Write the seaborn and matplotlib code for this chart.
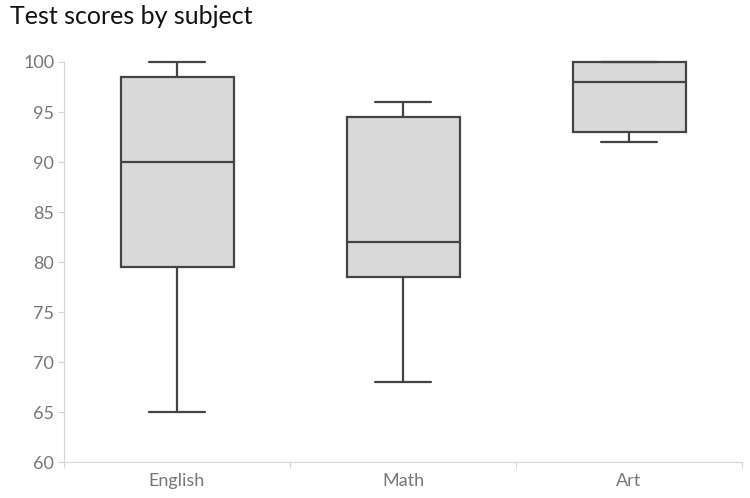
import matplotlib
matplotlib.use("Agg")
import matplotlib.pyplot as plt
import seaborn as sns
import pandas as pd

# scores per subject (chosen so the quartiles match the reference boxes)
subjects = ["English", "Math", "Art"]
english_scores = [65, 79.5, 90, 98.5, 100]
math_scores = [68, 78.5, 82, 94.5, 96]
art_scores = [92, 93, 98, 100, 100]
y_ticks = [60, 65, 70, 75, 80, 85, 90, 95, 100]

df = pd.DataFrame({
    "subject": ["English"] * len(english_scores) + ["Math"] * len(math_scores) + ["Art"] * len(art_scores),
    "score": english_scores + math_scores + art_scores,
})

sns.set_theme(style="white")
plt.rcParams["font.family"] = ["Lato", "DejaVu Sans"]

fig = plt.figure(figsize=(7.5, 4.98), dpi=100)
ax = fig.add_axes([64 / 750, 36 / 498, 678 / 750, 400 / 498])

line_col = "#444444"
sns.boxplot(data=df, x="subject", y="score", order=subjects, ax=ax,
            width=0.5, color="#d9d9d9", linecolor=line_col, linewidth=1.6,
            whis=1.5, showfliers=False, saturation=1)

for art in ax.lines + ax.patches:
    art.set_clip_on(False)

ax.set_ylim(60, 100)
ax.set_xlim(-0.5, 2.5)
ax.set_yticks(y_ticks)
ax.set_xticks([-0.5, 0.5, 1.5, 2.5], minor=True)
ax.tick_params(axis="x", which="major", length=0, pad=8, labelsize=13, labelcolor="#777777")
ax.tick_params(axis="x", which="minor", length=4, color="#d6d6d6", width=0.8, bottom=True)
ax.tick_params(axis="y", length=4, color="#d6d6d6", width=0.8, left=True, pad=3,
               labelsize=13, labelcolor="#777777")
ax.set_xlabel("")
ax.set_ylabel("")

for side in ["top", "right"]:
    ax.spines[side].set_visible(False)
for side in ["left", "bottom"]:
    ax.spines[side].set_color("#d6d6d6")
    ax.spines[side].set_linewidth(0.8)

fig.text(10 / 750, 1 - 5 / 498, "Test scores by subject", fontsize=18,
         color="#111111", ha="left", va="top")

fig.savefig("out.png", dpi=100)
